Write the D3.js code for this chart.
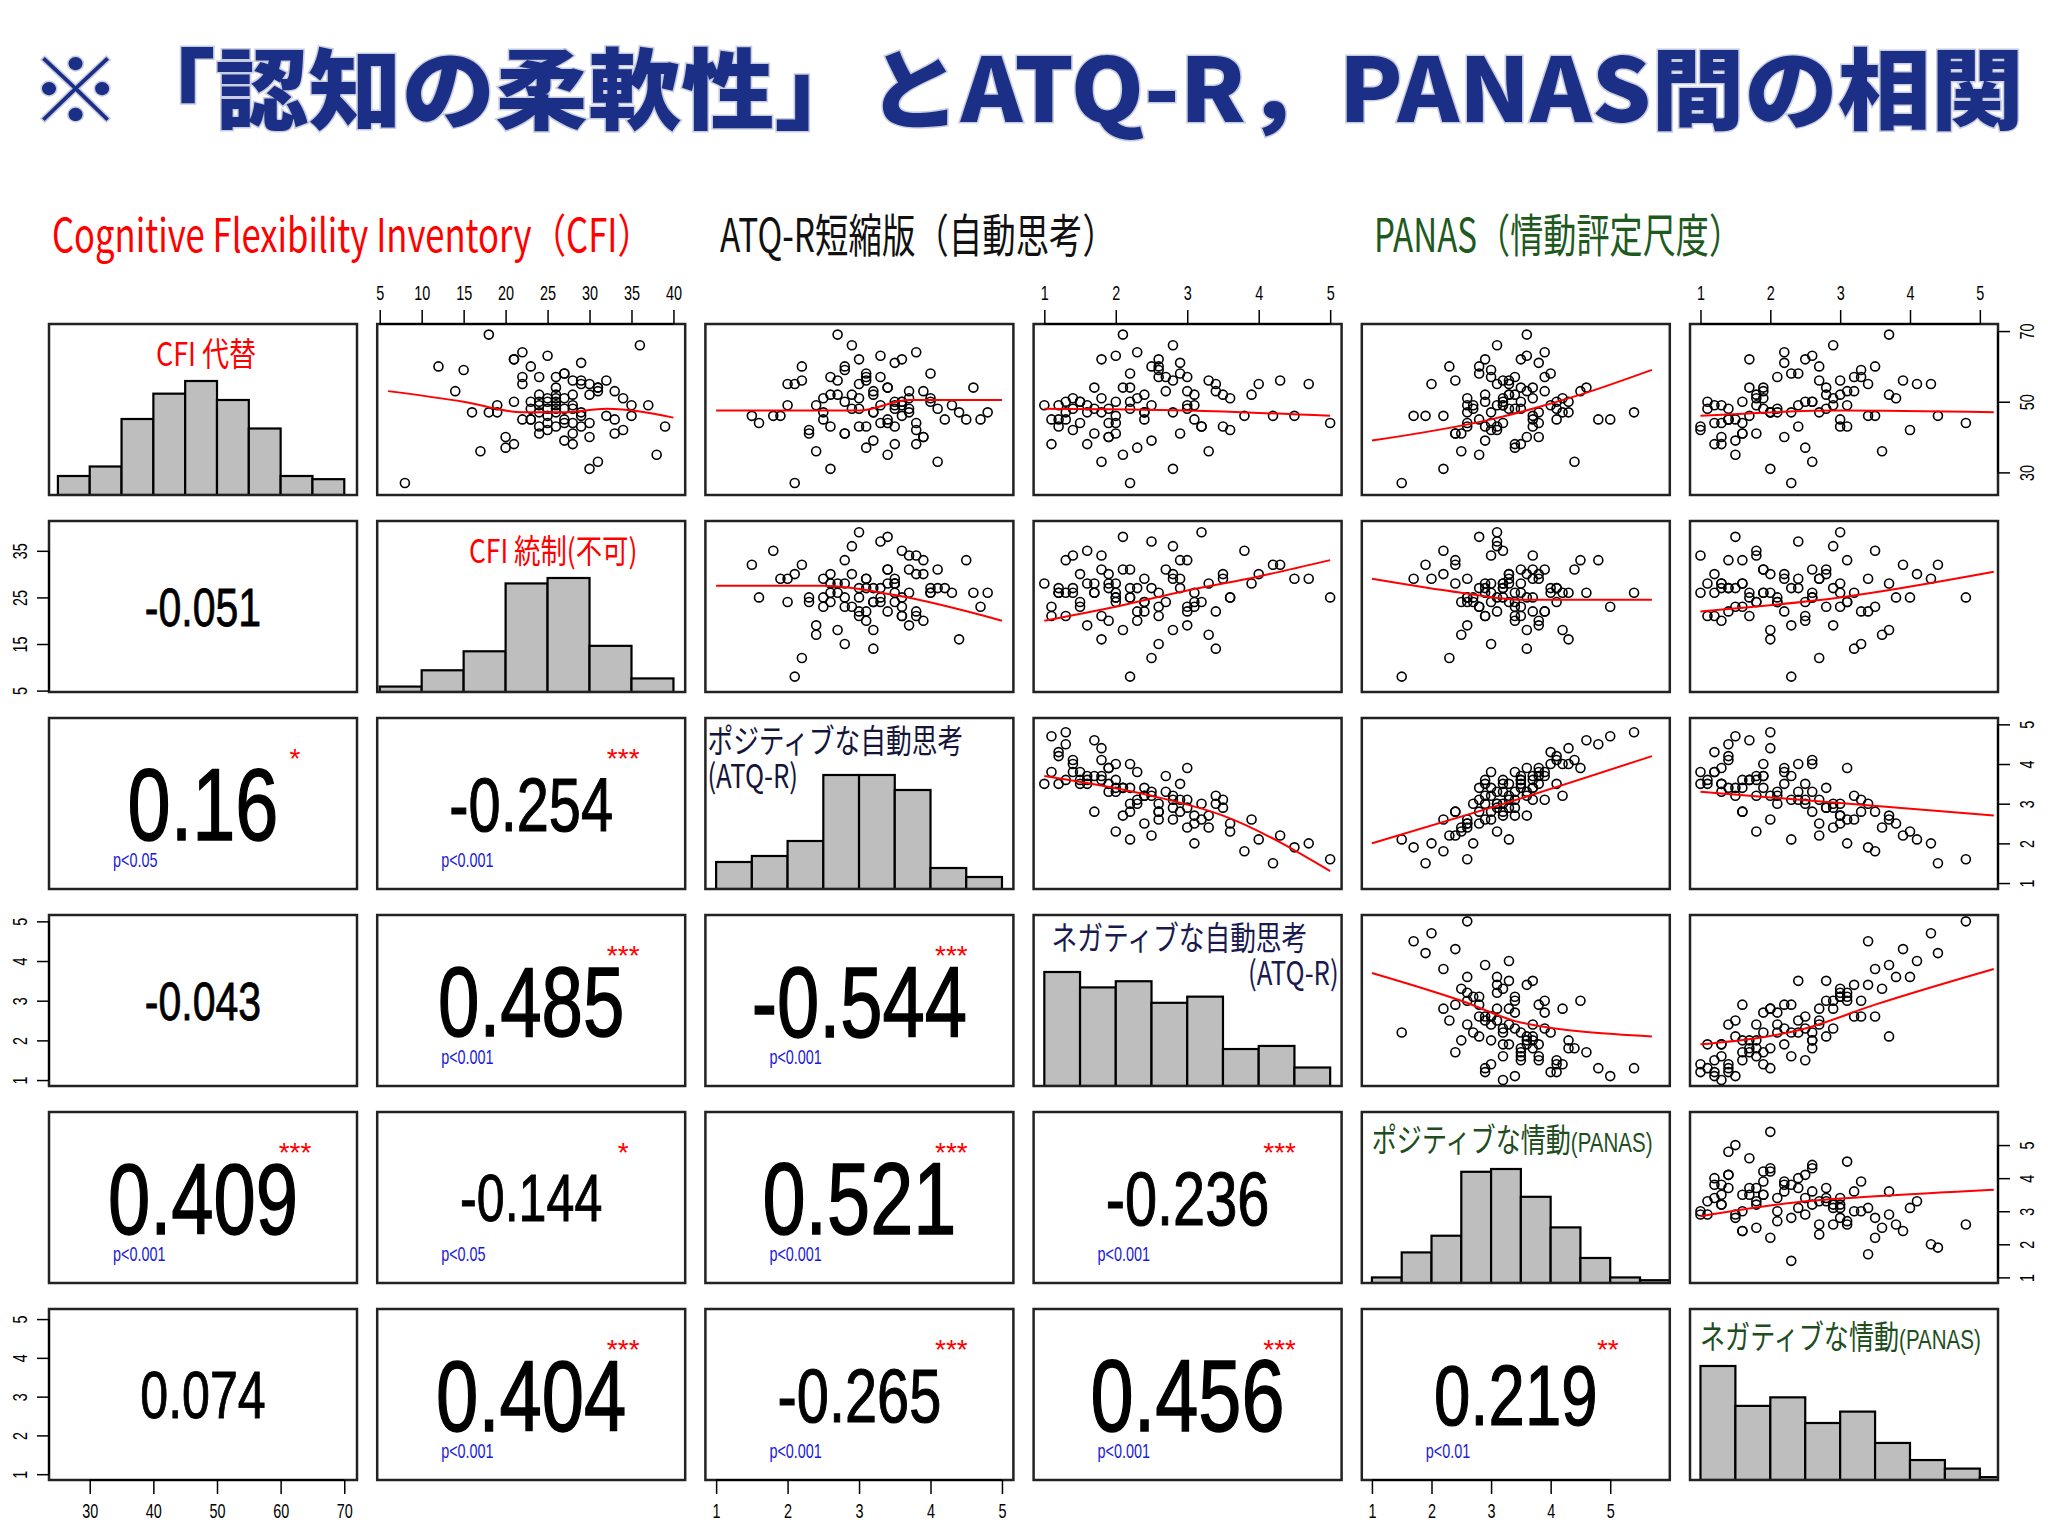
<!DOCTYPE html>
<html>
<head>
<meta charset="utf-8">
<script src="https://cdn.jsdelivr.net/npm/d3@7"></script>
<style>
  body { margin: 0; background: #fff; }
  svg { display: block; }
</style>
</head>
<body>
<svg id="chart" width="2048" height="1536"></svg>
<script>
// variables of the pairs plot
const varNames = ['CFI代替', 'CFI統制', 'ATQ正', 'ATQ負', 'PANAS正', 'PANAS負'];
const axisDomains = [[23.6, 72], [4.7, 41.4], [0.85, 5.16], [0.85, 5.16], [0.83, 6.0], [0.85, 5.26]];
const axisTicks = [[30, 40, 50, 60, 70], [5, 10, 15, 20, 25, 30, 35, 40], [1, 2, 3, 4, 5], [1, 2, 3, 4, 5], [1, 2, 3, 4, 5], [1, 2, 3, 4, 5]];
const rowTicks = [[30, 50, 70], [5, 15, 25, 35], [1, 2, 3, 4, 5], [1, 2, 3, 4, 5], [1, 2, 3, 4, 5], [1, 2, 3, 4, 5]];

// one value per respondent
const cfiAlt = [52,44,49,58,41,55,38,47,46,63,50,43,57,35,48,53,45,60,51,40,
  47,56,42,49,54,37,61,46,50,44,59,48,33,52,45,66,49,41,55,47,
  39,53,50,62,46,57,43,51,48,36,54,45,58,42,49,64,47,52,40,56,
  50,44,31,53,48,60,45,51,38,55,46,49,57,43,52,47,69,41,50,54,
  45,48,27,56,44,51,62,47,49,43];
const cfiCtrl = [24,30,19,27,33,22,28,16,35,25,21,29,26,38,23,31,27,12,25,30,
  18,28,34,24,26,20,29,32,23,27,15,25,31,28,22,36,26,24,30,19,
  27,33,25,21,29,24,39,26,28,17,31,23,27,25,35,22,29,26,20,32,
  24,28,30,14,26,23,33,27,21,29,25,37,22,26,30,24,18,28,26,31,
  23,27,8,29,25,34,21,26,28,24];
const atqPos = [3.2,3.8,2.4,4.0,2.8,3.0,3.5,4.4,1.8,3.3,3.6,3.1,2.6,3.4,2.9,3.7,4.2,2.2,2.5,3.9,
  3.2,2.7,3.8,2.0,4.6,3.1,3.5,1.5,3.6,3.3,2.8,3.0,4.1,2.6,3.4,2.9,4.3,2.3,2.1,3.7,
  3.2,3.9,2.8,3.6,1.9,3.3,3.0,4.0,3.5,2.4,3.4,4.7,3.1,2.3,3.6,3.8,2.5,2.7,3.9,2.2,
  3.5,3.4,2.6,3.2,3.7,2.8,4.5,3.0,3.8,2.0,3.6,3.3,3.1,3.5,2.9,3.2,2.7,2.8,4.0,3.4,
  2.5,4.1,2.1,3.1,1.6,3.7,3.0,4.8,3.5,2.6];
const atqNeg = [2.4,1.5,3.0,2.2,2.9,3.4,1.6,1.8,3.8,2.0,1.3,3.5,2.6,2.1,3.0,2.7,1.2,2.5,3.6,1.9,
  2.8,3.3,1.4,3.1,1.7,2.3,2.9,4.2,1.5,1.9,2.6,2.2,1.8,3.9,2.4,2.8,1.2,2.0,4.0,1.6,
  2.5,3.0,2.2,1.8,4.5,2.7,3.2,1.4,1.9,3.3,2.1,1.1,2.9,3.6,1.6,2.3,2.4,3.1,1.9,4.3,
  1.5,2.0,2.8,3.4,1.7,2.6,1.3,2.3,1.1,4.7,2.0,2.5,3.0,1.2,3.5,2.4,2.1,1.7,2.0,2.2,
  3.1,1.4,2.2,2.8,5.0,1.8,2.6,1.3,1.0,3.2];
const panasPos = [3.3,3.8,2.6,4.0,2.4,3.1,3.5,4.3,2.2,3.6,2.9,3.7,3.0,2.8,3.4,3.9,4.1,2.3,2.6,3.6,
  4.2,3.2,3.0,2.7,4.6,3.4,3.8,1.9,3.5,3.2,3.0,2.7,4.4,2.9,3.7,3.1,4.0,2.5,3.3,3.8,
  2.9,4.5,3.2,3.5,1.7,3.4,3.1,4.2,3.3,2.5,3.7,5.0,2.8,3.1,3.2,3.9,2.6,3.4,3.8,2.4,
  4.1,3.0,2.2,3.6,3.5,2.8,4.8,3.2,3.4,2.0,3.7,3.1,3.9,2.9,3.3,3.0,3.6,2.4,4.3,3.5,
  2.8,4.1,1.5,3.3,2.6,3.7,2.9,5.4,3.2,2.6];
const panasNeg = [1.8,1.2,2.9,2.4,1.6,3.4,1.3,2.0,3.5,2.6,1.1,2.4,3.2,1.5,2.8,1.9,1.4,2.7,3.8,2.2,
  2.0,3.0,1.0,3.1,1.7,2.5,2.2,4.4,1.6,1.3,3.3,2.1,2.6,3.7,1.4,2.9,1.2,1.8,4.1,2.3,
  1.5,3.1,2.6,1.7,3.4,2.1,3.0,1.9,1.1,3.6,2.8,1.5,2.3,4.0,1.8,2.2,2.7,3.0,1.3,3.9,
  2.5,1.6,2.0,3.2,1.9,3.5,1.4,2.9,1.2,4.3,1.7,2.4,3.3,1.0,2.8,2.1,3.7,1.6,2.6,1.9,
  3.0,1.4,2.3,2.7,4.8,1.8,2.5,2.0,1.3,3.1];
const variables = [cfiAlt, cfiCtrl, atqPos, atqNeg, panasPos, panasNeg];

// histogram bins on the diagonal
const histStart = [25, 5, 1, 1, 1, 1];
const histStep = [5, 5, 0.5, 0.5, 0.5, 0.5];
const histCounts = [
  [6, 9, 24, 32, 36, 30, 21, 6, 5],
  [2, 8, 15, 40, 42, 17, 5],
  [9, 11, 16, 38, 38, 33, 7, 4],
  [37, 32, 34, 27, 29, 12, 13, 6],
  [2, 11, 17, 40, 41, 31, 20, 9, 2, 1],
  [40, 26, 29, 20, 24, 13, 7, 4, 1]
];

// smoothing lines (upper panels), key "row-col", points [x, y]
const smoothLines = {
  '0-1': [[6, 53], [15, 50], [22, 47], [27, 47], [32, 48], [40, 45.5]],
  '0-2': [[1, 47.5], [3, 47.5], [3.7, 50.5], [5, 50.5]],
  '0-3': [[1, 48], [3, 47.5], [5, 46]],
  '0-4': [[1, 39], [3, 45], [4.5, 52], [5.7, 59]],
  '0-5': [[1, 46], [3, 47.5], [5.2, 47]],
  '1-2': [[1, 27.5], [2.5, 27.5], [3.5, 25.5], [5, 20]],
  '1-3': [[1, 20], [2, 23], [3, 26.5], [4, 29.5], [5, 33]],
  '1-4': [[1, 29], [2.5, 26], [3.5, 24.5], [5.7, 24.5]],
  '1-5': [[1, 22], [3, 25], [5.2, 30.5]],
  '2-3': [[1, 3.7], [2.5, 3.2], [3.5, 2.7], [5, 1.3]],
  '2-4': [[1, 2.0], [3, 2.9], [5.7, 4.2]],
  '2-5': [[1, 3.3], [5.2, 2.7]],
  '3-4': [[1, 3.7], [2.5, 3.0], [3.5, 2.45], [5.7, 2.1]],
  '3-5': [[1, 1.9], [2.5, 2.3], [3.5, 2.9], [5.2, 3.8]],
  '4-5': [[1, 2.85], [2.5, 3.3], [3.5, 3.45], [5.2, 3.65]]
};

// correlations (lower panels), key "row-col"
const corText = {
  '1-0': '-0.051', '2-0': '0.16', '2-1': '-0.254', '3-0': '-0.043', '3-1': '0.485', '3-2': '-0.544',
  '4-0': '0.409', '4-1': '-0.144', '4-2': '0.521', '4-3': '-0.236',
  '5-0': '0.074', '5-1': '0.404', '5-2': '-0.265', '5-3': '0.456', '5-4': '0.219'
};
const corStars = {
  '1-0': '', '2-0': '*', '2-1': '***', '3-0': '', '3-1': '***', '3-2': '***',
  '4-0': '***', '4-1': '*', '4-2': '***', '4-3': '***',
  '5-0': '', '5-1': '***', '5-2': '***', '5-3': '***', '5-4': '**'
};
const corP = {
  '1-0': '', '2-0': 'p<0.05', '2-1': 'p<0.001', '3-0': '', '3-1': 'p<0.001', '3-2': 'p<0.001',
  '4-0': 'p<0.001', '4-1': 'p<0.05', '4-2': 'p<0.001', '4-3': 'p<0.001',
  '5-0': '', '5-1': 'p<0.001', '5-2': 'p<0.001', '5-3': 'p<0.001', '5-4': 'p<0.01'
};

// ---- style ----
const corFont = {
  '1-0': 54, '2-0': 102, '2-1': 76, '3-0': 54, '3-1': 98, '3-2': 100,
  '4-0': 100, '4-1': 66, '4-2': 102, '4-3': 76,
  '5-0': 66, '5-1': 100, '5-2': 76, '5-3': 102, '5-4': 86
};
const sans = '"Liberation Sans", Arial, sans-serif';
const cjk = '"Noto Sans CJK JP", sans-serif';
const colX0 = 49, colStep = 328.2, panelW = 308;
const rowY0 = 324, rowStep = 197, panelH = 171;

const svg = d3.select('#chart');

// condensed text: placed at 0,0 inside a scaled group
const narrowText = (parent, x, y, sx, anchor) =>
  parent.append('g').attr('transform', `translate(${x},${y}) scale(${sx},1)`)
    .append('text').attr('text-anchor', anchor || 'start');

// title
svg.append('text')
  .attr('x', 29).attr('y', 122)
  .attr('textLength', 1995).attr('lengthAdjust', 'spacingAndGlyphs')
  .style('font', `900 88px ${cjk}`)
  .attr('fill', '#1c2f86')
  .style('paint-order', 'stroke').attr('stroke', '#c9cde0').attr('stroke-width', 3)
  .text('※「認知の柔軟性」とATQ-R，PANAS間の相関');

// group headers
const headers = [
  { t: 'Cognitive Flexibility Inventory（CFI）', x: 52, w: 600, c: '#ff0000' },
  { t: 'ATQ-R短縮版（自動思考）', x: 720, w: 396, c: '#111' },
  { t: 'PANAS（情動評定尺度）', x: 1374, w: 368, c: '#1e5a1e' }
];
svg.selectAll('.hdr').data(headers).join('text')
  .attr('x', d => d.x).attr('y', 252)
  .attr('textLength', d => d.w).attr('lengthAdjust', 'spacingAndGlyphs')
  .style('font', `46px ${cjk}`).attr('fill', d => d.c)
  .text(d => d.t);

const xs = axisDomains.map(dm => d3.scaleLinear().domain(dm).range([0, panelW]));
const ys = axisDomains.map(dm => d3.scaleLinear().domain(dm).range([panelH, 0]));

const cells = [];
for (let i = 0; i < 6; i++) for (let j = 0; j < 6; j++) cells.push({ i, j });

svg.append('defs').append('clipPath').attr('id', 'pclip').append('rect')
  .attr('width', panelW).attr('height', panelH);

const panel = svg.selectAll('.panel').data(cells).join('g')
  .attr('transform', d => `translate(${colX0 + d.j * colStep},${rowY0 + d.i * rowStep})`);

panel.each(function (d) {
  const g = d3.select(this);
  const key = `${d.i}-${d.j}`;
  const inner = g.append('g').attr('clip-path', 'url(#pclip)');
  if (d.i < d.j) {
    const vx = variables[d.j], vy = variables[d.i];
    inner.selectAll('circle').data(d3.range(vx.length)).join('circle')
      .attr('cx', k => xs[d.j](vx[k])).attr('cy', k => ys[d.i](vy[k]))
      .attr('r', 4.5).attr('fill', 'none').attr('stroke', '#000').attr('stroke-width', 1.6);
    inner.append('path').datum(smoothLines[key])
      .attr('fill', 'none').attr('stroke', '#ff0000').attr('stroke-width', 2)
      .attr('d', d3.line().x(p => xs[d.j](p[0])).y(p => ys[d.i](p[1])).curve(d3.curveMonotoneX));
  } else if (d.i === d.j) {
    const counts = histCounts[d.i];
    const hy = d3.scaleLinear().domain([0, d3.max(counts) * 1.5]).range([panelH, 0]);
    inner.selectAll('rect').data(counts).join('rect')
      .attr('x', (c, k) => xs[d.j](histStart[d.i] + k * histStep[d.i]))
      .attr('width', xs[d.j](histStart[d.i] + histStep[d.i]) - xs[d.j](histStart[d.i]))
      .attr('y', c => hy(c)).attr('height', c => panelH - hy(c))
      .attr('fill', '#bebebe').attr('stroke', '#000').attr('stroke-width', 2.2);
  } else {
    const fs = corFont[key];
    narrowText(g, panelW / 2, panelH / 2 + fs * 0.36, 0.76, 'middle')
      .style('font', `${fs}px ${sans}`).attr('fill', '#000')
      .attr('stroke', '#000').attr('stroke-width', fs / 70)
      .text(corText[key]);
    narrowText(g, 246, 50, 1, 'middle')
      .style('font', `28px ${sans}`).attr('fill', '#ff0000')
      .text(corStars[key]);
    narrowText(g, 64, 149, 0.72, 'start')
      .style('font', `20px ${sans}`).attr('fill', '#1a1ad8')
      .text(corP[key]);
  }
  g.append('rect').attr('width', panelW).attr('height', panelH)
    .attr('fill', 'none').attr('stroke', '#222').attr('stroke-width', 2.5);
});

// diagonal labels
const diagLabels = [
  { i: 0, lines: [{ t: 'CFI 代替', x: 157, y: 42, a: 'middle' }], c: '#ff0000', s: 0.82 },
  { i: 1, lines: [{ t: 'CFI 統制(不可)', x: 176, y: 42, a: 'middle' }], c: '#ff0000', s: 0.8 },
  { i: 2, lines: [{ t: 'ポジティブな自動思考', x: 2, y: 35, a: 'start' }, { t: '(ATQ-R)', x: 2, y: 70, a: 'start' }], c: '#15153a', s: 0.78 },
  { i: 3, lines: [{ t: 'ネガティブな自動思考', x: 18, y: 35, a: 'start' }, { t: '(ATQ-R)', x: 305, y: 70, a: 'end' }], c: '#1a1a50', s: 0.78 },
  { i: 4, lines: [{ t: 'ポジティブな情動', sub: '(PANAS)', x: 10, y: 40, a: 'start' }], c: '#1e4d1e', s: 0.76 },
  { i: 5, lines: [{ t: 'ネガティブな情動', sub: '(PANAS)', x: 10, y: 40, a: 'start' }], c: '#1e4d1e', s: 0.76 }
];
diagLabels.forEach(dl => {
  const g = svg.append('g')
    .attr('transform', `translate(${colX0 + dl.i * colStep},${rowY0 + dl.i * rowStep})`);
  dl.lines.forEach(l => {
    const t = narrowText(g, l.x, l.y, dl.s, l.a)
      .style('font', `33px ${cjk}`).attr('fill', dl.c)
      .text(l.t);
    if (l.sub) t.append('tspan').style('font', `27px ${sans}`).text(l.sub);
  });
});

// axes, alternating like R pairs()
for (let j = 0; j < 6; j++) {
  const top = j % 2 === 1;
  const y = top ? rowY0 : rowY0 + 5 * rowStep + panelH;
  const g = svg.append('g')
    .attr('transform', `translate(${colX0 + j * colStep},${y})`);
  const ax = (top ? d3.axisTop(xs[j]) : d3.axisBottom(xs[j]))
    .tickValues(axisTicks[j]).tickSize(14).tickPadding(10).tickFormat(d3.format('d'));
  g.call(ax);
  const t = axisTicks[j];
  g.select('.domain').attr('d', `M${xs[j](t[0])},0H${xs[j](t[t.length - 1])}`)
    .attr('stroke', '#000').attr('stroke-width', 2);
  g.selectAll('.tick line').attr('stroke-width', 1.5);
  g.selectAll('.tick text').style('font', `20px ${sans}`).attr('fill', '#000')
    .attr('transform', 'scale(0.72,1)')
    .attr('x', 0);
}
for (let i = 0; i < 6; i++) {
  const right = i % 2 === 0;
  const x = right ? colX0 + 5 * colStep + panelW : colX0;
  const g = svg.append('g')
    .attr('transform', `translate(${x},${rowY0 + i * rowStep})`);
  const ax = (right ? d3.axisRight(ys[i]) : d3.axisLeft(ys[i]))
    .tickValues(rowTicks[i]).tickSize(12).tickFormat(d3.format('d'));
  g.call(ax);
  const t = rowTicks[i];
  g.select('.domain').attr('d', `M0,${ys[i](t[0])}V${ys[i](t[t.length - 1])}`)
    .attr('stroke', '#000').attr('stroke-width', 2);
  g.selectAll('.tick line').attr('stroke-width', 1.5);
  g.selectAll('.tick text')
    .attr('x', null).attr('dy', null).attr('y', 6)
    .attr('text-anchor', 'middle')
    .attr('transform', right ? 'translate(30,0) rotate(-90) scale(0.72,1)' : 'translate(-28,0) rotate(-90) scale(0.72,1)')
    .style('font', `20px ${sans}`).attr('fill', '#000');
}
</script>
</body>
</html>
